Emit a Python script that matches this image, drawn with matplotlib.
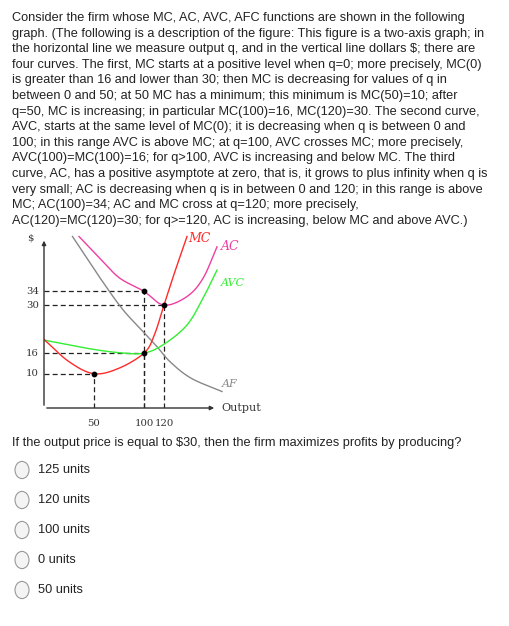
import numpy as np
import matplotlib
matplotlib.use("Agg")
import matplotlib.pyplot as plt
from matplotlib.patches import Circle

W, H = 509, 626
para = [
"Consider the firm whose MC, AC, AVC, AFC functions are shown in the following",
"graph. (The following is a description of the figure: This figure is a two-axis graph; in",
"the horizontal line we measure output q, and in the vertical line dollars $; there are",
"four curves. The first, MC starts at a positive level when q=0; more precisely, MC(0)",
"is greater than 16 and lower than 30; then MC is decreasing for values of q in",
"between 0 and 50; at 50 MC has a minimum; this minimum is MC(50)=10; after",
"q=50, MC is increasing; in particular MC(100)=16, MC(120)=30. The second curve,",
"AVC, starts at the same level of MC(0); it is decreasing when q is between 0 and",
"100; in this range AVC is above MC; at q=100, AVC crosses MC; more precisely,",
"AVC(100)=MC(100)=16; for q>100, AVC is increasing and below MC. The third",
"curve, AC, has a positive asymptote at zero, that is, it grows to plus infinity when q is",
"very small; AC is decreasing when q is in between 0 and 120; in this range is above",
"MC; AC(100)=34; AC and MC cross at q=120; more precisely,",
"AC(120)=MC(120)=30; for q>=120, AC is increasing, below MC and above AVC.)",
]
question = "If the output price is equal to $30, then the firm maximizes profits by producing?"
options = ["125 units", "120 units", "100 units", "0 units", "50 units"]

mc_q = [0, 25, 50, 75, 100, 110, 120, 130, 143]
mc_v = [20, 13.5, 10, 11.6, 16, 21, 30, 39, 50]
ac_q = [35, 59, 76, 100, 120, 143, 159, 173]
ac_v = [50, 42.7, 37.8, 34, 30, 32.5, 37.8, 47]
avc_q = [0, 43, 76, 100, 120, 143, 159, 173]
avc_v = [19.8, 17.4, 16.1, 16, 18.6, 24.2, 32, 40.2]
af_q = [28.5, 54, 78, 99, 113, 126, 147, 178]
af_v = [50, 38.8, 29, 22.3, 17.9, 13.5, 8.7, 4.8]
yticks = [10, 16, 30, 34]
xticks = [50, 100, 120]
points = [(50, 10), (100, 16), (100, 34), (120, 30)]

def smooth(xs, ys, n=20):
    P = np.column_stack([xs, ys]).astype(float)
    P = np.vstack([2*P[0]-P[1], P, 2*P[-1]-P[-2]])
    out = []
    t = np.linspace(0, 1, n, endpoint=False)[:, None]
    for i in range(1, len(P)-2):
        p0, p1, p2, p3 = P[i-1], P[i], P[i+1], P[i+2]
        out.append(0.5*((2*p1) + (-p0+p2)*t + (2*p0-5*p1+4*p2-p3)*t**2 + (-p0+3*p1-3*p2+p3)*t**3))
    out.append(P[-2][None, :])
    o = np.vstack(out)
    return o[:, 0], o[:, 1]

fig = plt.figure(figsize=(W/100, H/100), dpi=100)
def ft(x, y, s, **kw):
    fig.text(x/W, 1-y/H, s, va='center', **kw)

for i, line in enumerate(para):
    ft(12, 18+15.6*i, line, fontsize=9.2, family='Liberation Sans', color='#222222')
ft(12, 443, question, fontsize=9.2, family='Liberation Sans', color='#222222')
for i, o in enumerate(options):
    y = 470+30*i
    ft(38, y, o, fontsize=9.2, family='Liberation Sans', color='#222222')
    fig.patches.append(Circle((22/W, 1-y/H), 7/W, transform=fig.transFigure, fc='#f4f4f4', ec='#999999', lw=0.8))

ox, oy, sx, sy = 44, 408, 1.0, 3.43
ymax = 51
ax = fig.add_axes([ox/W, (H-oy)/H, 190*sx/W, ymax*sy/H])
ax.set_xlim(0, 190); ax.set_ylim(0, ymax)
ax.axis('off')
ax.annotate('', xy=(0, 49.6), xytext=(0, 0), arrowprops=dict(arrowstyle='-|>', color='#333', lw=1, mutation_scale=6), annotation_clip=False)
ax.annotate('', xy=(173, 0), xytext=(0, 0), arrowprops=dict(arrowstyle='-|>', color='#333', lw=1, mutation_scale=6), annotation_clip=False)
for (q, v) in points:
    ax.plot([0, q], [v, v], ls=(0, (4, 2.5)), color='#222', lw=0.9)
    ax.plot([q, q], [0, v], ls=(0, (4, 2.5)), color='#222', lw=0.9)
ax.plot(*smooth(af_q, af_v), color='#888888', lw=1)
ax.plot(*smooth(avc_q, avc_v), color='#33ee33', lw=1)
ax.plot(*smooth(ac_q, ac_v), color='#ee3fa0', lw=1)
ax.plot(*smooth(mc_q, mc_v), color='#ff2a2a', lw=1)
ax.scatter(*zip(*points), s=10, color='black', zorder=5)
sf = dict(family='DejaVu Serif', fontsize=7.3, color='#333')
for v in yticks:
    ax.text(-5, v, str(v), ha='right', va='center', **sf)
for q in xticks:
    ax.text(q, -3.3, str(q), ha='center', va='top', **sf)
ax.text(-10, 49.5, '$', ha='right', va='center', **sf)
ax.text(177, 0, 'Output', ha='left', va='center', family='DejaVu Serif', fontsize=8, color='#333')
ax.text(144, 49.5, 'MC', color='#ff2a2a', style='italic', family='DejaVu Serif', fontsize=9, ha='left', va='center', clip_on=False)
ax.text(177, 47, 'AC', color='#ee3fa0', style='italic', family='DejaVu Serif', fontsize=9, ha='left', va='center')
ax.text(177, 36.5, 'AVC', color='#33ee33', style='italic', family='DejaVu Serif', fontsize=8, ha='left', va='center')
ax.text(178, 7, 'AF', color='#888888', style='italic', family='DejaVu Serif', fontsize=8, ha='left', va='center')
fig.savefig('out.png', dpi=100)
